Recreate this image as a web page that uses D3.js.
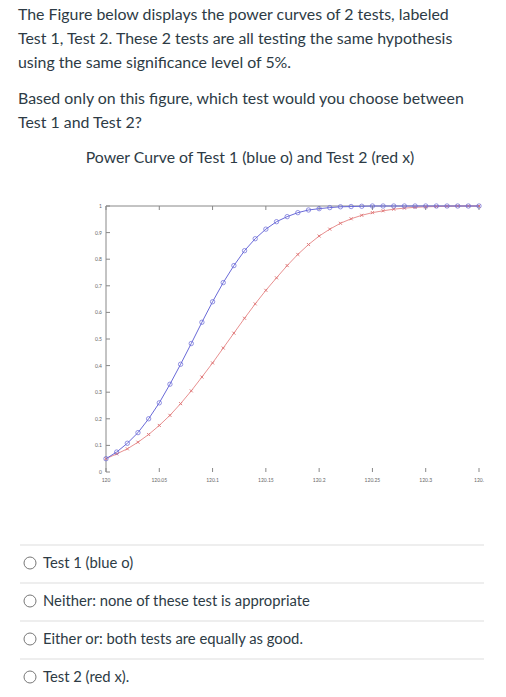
<!DOCTYPE html><html><head><meta charset="utf-8"><script src="https://cdn.jsdelivr.net/npm/d3@7"></script>
<style>body{margin:0;background:#fff;font-family:Lato,sans-serif;color:#2d3b45}</style></head><body><svg id="s" width="506" height="697"></svg><script>
const xs=d3.range(36).map(i=>120+i*0.01);
const blue=[0.05,0.075,0.108,0.148,0.2,0.26,0.33,0.405,0.483,0.563,0.64,0.712,0.776,0.832,0.877,0.913,0.941,0.96,0.975,0.985,0.99,0.994,0.997,0.998,0.999,1,1,1,1,1,1,1,1,1,1,1];
const red=[0.05,0.068,0.087,0.112,0.141,0.175,0.213,0.257,0.305,0.357,0.41,0.466,0.522,0.578,0.632,0.683,0.73,0.776,0.818,0.855,0.887,0.913,0.935,0.952,0.965,0.975,0.982,0.988,0.992,0.995,0.997,0.998,0.999,1,1,1];
const xticks=[120,120.05,120.1,120.15,120.2,120.25,120.3,120.35];
const xlabels=["120","120.05","120.1","120.15","120.2","120.25","120.3","120."];
const yticks=[0,0.1,0.2,0.3,0.4,0.5,0.6,0.7,0.8,0.9,1];
const s=d3.select("#s");
const para=[["The Figure below displays the power curves of 2 tests, labeled",20],["Test 1, Test 2. These 2 tests are all testing the same hypothesis",44],["using the same significance level of 5%.",68],["Based only on this figure, which test would you choose between",104],["Test 1 and Test 2?",128]];
para.forEach(([t,y])=>s.append("text").attr("x",18).attr("y",y).attr("font-size",15.9).attr("fill","#2d3b45").text(t));
s.append("text").attr("x",250).attr("y",163).attr("text-anchor","middle").attr("font-size",15.8).attr("fill","#2d3b45").text("Power Curve of Test 1 (blue o) and Test 2 (red x)");
const x=d3.scaleLinear().domain([120,120.35]).range([106,479]);
const y=d3.scaleLinear().domain([0,1]).range([472,206]);
const g=s.append("g").attr("font-size",5).attr("fill","#666");
s.append("line").attr("x1",106).attr("x2",479).attr("y1",206).attr("y2",206).attr("stroke","#888");
s.append("line").attr("x1",106).attr("x2",106).attr("y1",206).attr("y2",472).attr("stroke","#888");
yticks.forEach(v=>{s.append("line").attr("x1",106).attr("x2",110).attr("y1",y(v)).attr("y2",y(v)).attr("stroke","#888");
g.append("text").attr("x",102).attr("y",y(v)+2).attr("text-anchor","end").text(v)});
xticks.forEach((v,i)=>{s.append("line").attr("x1",x(v)).attr("x2",x(v)).attr("y1",472).attr("y2",468).attr("stroke","#888");
s.append("line").attr("x1",x(v)).attr("x2",x(v)).attr("y1",206).attr("y2",210).attr("stroke","#888");
g.append("text").attr("x",x(v)).attr("y",482).attr("text-anchor","middle").text(xlabels[i])});
const line=d3.line().x((d,i)=>x(xs[i])).y(d=>y(d));
s.append("path").attr("d",line(red)).attr("fill","none").attr("stroke","#e89090").attr("stroke-width",1);
red.forEach((d,i)=>{const cx=x(xs[i]),cy=y(d);s.append("path").attr("d",`M${cx-1.5},${cy-1.5}L${cx+1.5},${cy+1.5}M${cx-1.5},${cy+1.5}L${cx+1.5},${cy-1.5}`).attr("stroke","#e07a7a")});
s.append("path").attr("d",line(blue)).attr("fill","none").attr("stroke","#6a6ad8").attr("stroke-width",1);
blue.forEach((d,i)=>s.append("circle").attr("cx",x(xs[i])).attr("cy",y(d)).attr("r",2.2).attr("fill","none").attr("stroke","#6a6ad8").attr("stroke-width",0.9).attr("opacity",0.8));
const opts=[["Test 1 (blue o)",563],["Neither: none of these test is appropriate",601],["Either or: both tests are equally as good.",639],["Test 2 (red x).",677]];
[545,583,621,659].forEach(yy=>s.append("line").attr("x1",20).attr("x2",484).attr("y1",yy).attr("y2",yy).attr("stroke","#ddd"));
opts.forEach(([t,yy])=>{s.append("circle").attr("cx",30).attr("cy",yy).attr("r",6).attr("fill","#fff").attr("stroke","#777");
s.append("text").attr("x",43).attr("y",yy+5).attr("font-size",14.8).attr("fill","#2d3b45").text(t)});
</script></body></html>
